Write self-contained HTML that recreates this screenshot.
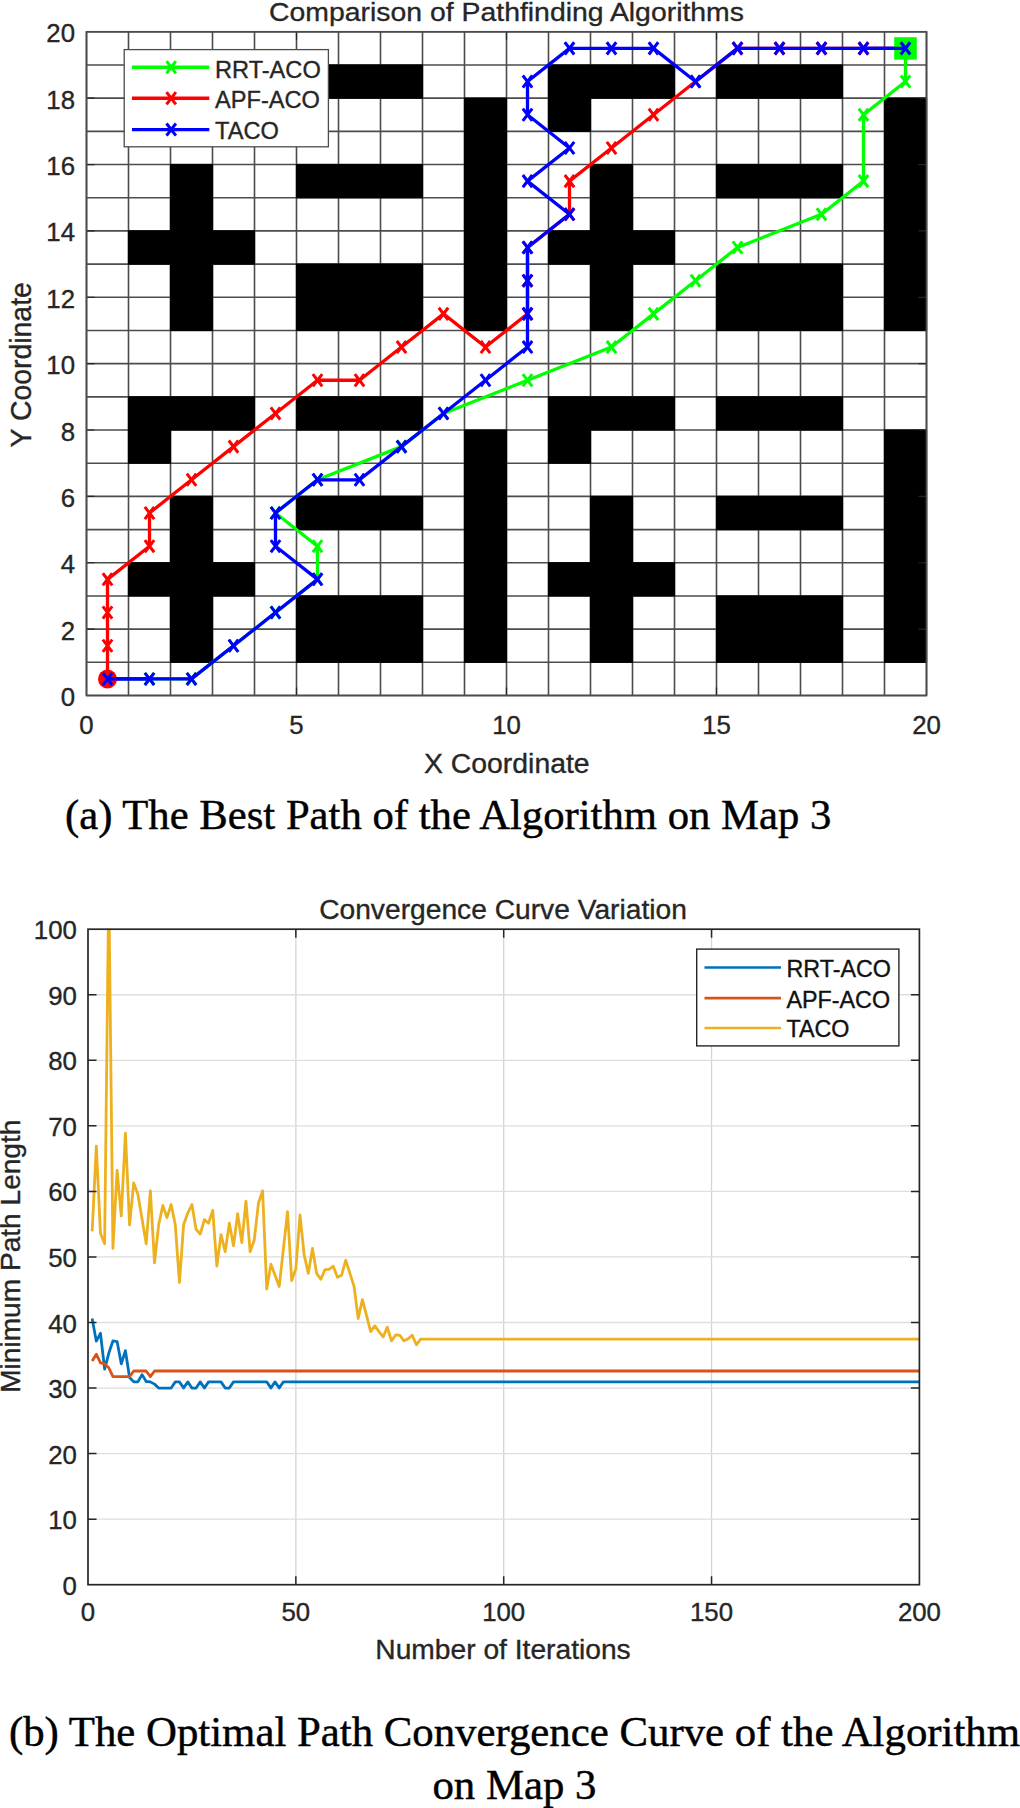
<!DOCTYPE html><html><head><meta charset="utf-8"><title>Figure</title><style>html,body{margin:0;padding:0;background:#fff}svg{display:block}text{font-family:"Liberation Sans",Arial,sans-serif;fill:#262626;stroke:#262626;stroke-width:.35px}.cap{font-family:"Liberation Serif","Times New Roman",serif;fill:#000;stroke:#000;stroke-width:.45px}</style></head><body>
<svg width="1020" height="1808" viewBox="0 0 1020 1808">
<rect width="1020" height="1808" fill="#fff"/>
<g id="c1">
<path d="M86.50 31.80V695.50M86.50 695.50H926.50M128.50 31.80V695.50M86.50 662.32H926.50M170.50 31.80V695.50M86.50 629.13H926.50M212.50 31.80V695.50M86.50 595.94H926.50M254.50 31.80V695.50M86.50 562.76H926.50M296.50 31.80V695.50M86.50 529.58H926.50M338.50 31.80V695.50M86.50 496.39H926.50M380.50 31.80V695.50M86.50 463.20H926.50M422.50 31.80V695.50M86.50 430.02H926.50M464.50 31.80V695.50M86.50 396.83H926.50M506.50 31.80V695.50M86.50 363.65H926.50M548.50 31.80V695.50M86.50 330.46H926.50M590.50 31.80V695.50M86.50 297.28H926.50M632.50 31.80V695.50M86.50 264.09H926.50M674.50 31.80V695.50M86.50 230.91H926.50M716.50 31.80V695.50M86.50 197.72H926.50M758.50 31.80V695.50M86.50 164.54H926.50M800.50 31.80V695.50M86.50 131.36H926.50M842.50 31.80V695.50M86.50 98.17H926.50M884.50 31.80V695.50M86.50 64.98H926.50M926.50 31.80V695.50M86.50 31.80H926.50" stroke="#4c4c4c" stroke-width="1.6" fill="none"/>
<g fill="#000">
<rect x="127.90" y="396.23" width="127.20" height="34.39"/>
<rect x="127.90" y="429.42" width="43.20" height="34.39"/>
<rect x="169.90" y="495.79" width="43.20" height="167.12"/>
<rect x="127.90" y="562.16" width="127.20" height="34.39"/>
<rect x="295.90" y="396.23" width="127.20" height="34.39"/>
<rect x="295.90" y="495.79" width="127.20" height="34.39"/>
<rect x="295.90" y="595.34" width="127.20" height="67.57"/>
<rect x="463.90" y="429.42" width="43.20" height="233.50"/>
<rect x="547.90" y="396.23" width="127.20" height="34.39"/>
<rect x="547.90" y="429.42" width="43.20" height="34.39"/>
<rect x="589.90" y="495.79" width="43.20" height="167.12"/>
<rect x="547.90" y="562.16" width="127.20" height="34.39"/>
<rect x="715.90" y="396.23" width="127.20" height="34.39"/>
<rect x="715.90" y="495.79" width="127.20" height="34.39"/>
<rect x="715.90" y="595.34" width="127.20" height="67.57"/>
<rect x="883.90" y="429.42" width="43.20" height="233.50"/>
<rect x="127.90" y="64.38" width="127.20" height="34.39"/>
<rect x="127.90" y="97.57" width="43.20" height="34.39"/>
<rect x="169.90" y="163.94" width="43.20" height="167.12"/>
<rect x="127.90" y="230.31" width="127.20" height="34.39"/>
<rect x="295.90" y="64.38" width="127.20" height="34.39"/>
<rect x="295.90" y="163.94" width="127.20" height="34.39"/>
<rect x="295.90" y="263.49" width="127.20" height="67.57"/>
<rect x="463.90" y="97.57" width="43.20" height="233.50"/>
<rect x="547.90" y="64.38" width="127.20" height="34.39"/>
<rect x="547.90" y="97.57" width="43.20" height="34.39"/>
<rect x="589.90" y="163.94" width="43.20" height="167.12"/>
<rect x="547.90" y="230.31" width="127.20" height="34.39"/>
<rect x="715.90" y="64.38" width="127.20" height="34.39"/>
<rect x="715.90" y="163.94" width="127.20" height="34.39"/>
<rect x="715.90" y="263.49" width="127.20" height="67.57"/>
<rect x="883.90" y="97.57" width="43.20" height="233.50"/>
</g>
<path d="M86.5 629.13h8M926.5 629.13h-8M86.5 562.76h8M926.5 562.76h-8M86.5 496.39h8M926.5 496.39h-8M86.5 430.02h8M926.5 430.02h-8M86.5 363.65h8M926.5 363.65h-8M86.5 297.28h8M926.5 297.28h-8M86.5 230.91h8M926.5 230.91h-8M86.5 164.54h8M926.5 164.54h-8M86.5 98.17h8M926.5 98.17h-8M296.50 31.8v8M296.50 695.5v-8M506.50 31.8v8M506.50 695.5v-8M716.50 31.8v8M716.50 695.5v-8" stroke="#262626" stroke-width="1.2" fill="none"/>
<rect x="86.5" y="31.8" width="840.0" height="663.7" fill="none" stroke="#4c4c4c" stroke-width="1.7"/>
<path d="M107.50 678.91L149.50 678.91L191.50 678.91L233.50 645.72L275.50 612.54L317.50 579.35L317.50 546.17L275.50 512.98L317.50 479.80L401.50 446.61L443.50 413.43L527.50 380.24L611.50 347.06L653.50 313.87L695.50 280.69L737.50 247.50L821.50 214.32L863.50 181.13L863.50 114.76L905.50 81.58L905.50 48.39" stroke="#00ff00" stroke-width="3.3" fill="none" stroke-linejoin="round"/>
<path d="M102.80 672.81L112.20 685.01M112.20 672.81L102.80 685.01M144.80 672.81L154.20 685.01M154.20 672.81L144.80 685.01M186.80 672.81L196.20 685.01M196.20 672.81L186.80 685.01M228.80 639.62L238.20 651.82M238.20 639.62L228.80 651.82M270.80 606.44L280.20 618.64M280.20 606.44L270.80 618.64M312.80 573.25L322.20 585.45M322.20 573.25L312.80 585.45M312.80 540.07L322.20 552.27M322.20 540.07L312.80 552.27M270.80 506.88L280.20 519.08M280.20 506.88L270.80 519.08M312.80 473.70L322.20 485.90M322.20 473.70L312.80 485.90M396.80 440.51L406.20 452.71M406.20 440.51L396.80 452.71M438.80 407.33L448.20 419.53M448.20 407.33L438.80 419.53M522.80 374.14L532.20 386.34M532.20 374.14L522.80 386.34M606.80 340.96L616.20 353.16M616.20 340.96L606.80 353.16M648.80 307.77L658.20 319.97M658.20 307.77L648.80 319.97M690.80 274.59L700.20 286.79M700.20 274.59L690.80 286.79M732.80 241.40L742.20 253.60M742.20 241.40L732.80 253.60M816.80 208.22L826.20 220.42M826.20 208.22L816.80 220.42M858.80 175.03L868.20 187.23M868.20 175.03L858.80 187.23M858.80 108.66L868.20 120.86M868.20 108.66L858.80 120.86M900.80 75.48L910.20 87.68M910.20 75.48L900.80 87.68M900.80 42.29L910.20 54.49M910.20 42.29L900.80 54.49" stroke="#00ff00" stroke-width="3" fill="none"/>
<path d="M107.50 678.91L107.50 645.72L107.50 612.54L107.50 579.35L149.50 546.17L149.50 512.98L191.50 479.80L233.50 446.61L275.50 413.43L317.50 380.24L359.50 380.24L401.50 347.06L443.50 313.87L485.50 347.06L527.50 313.87L527.50 280.69L527.50 247.50L569.50 214.32L569.50 181.13L611.50 147.95L653.50 114.76L695.50 81.58L737.50 48.39L779.50 48.39L821.50 48.39L863.50 48.39L905.50 48.39" stroke="#ff0000" stroke-width="3.3" fill="none" stroke-linejoin="round"/>
<path d="M102.80 672.81L112.20 685.01M112.20 672.81L102.80 685.01M102.80 639.62L112.20 651.82M112.20 639.62L102.80 651.82M102.80 606.44L112.20 618.64M112.20 606.44L102.80 618.64M102.80 573.25L112.20 585.45M112.20 573.25L102.80 585.45M144.80 540.07L154.20 552.27M154.20 540.07L144.80 552.27M144.80 506.88L154.20 519.08M154.20 506.88L144.80 519.08M186.80 473.70L196.20 485.90M196.20 473.70L186.80 485.90M228.80 440.51L238.20 452.71M238.20 440.51L228.80 452.71M270.80 407.33L280.20 419.53M280.20 407.33L270.80 419.53M312.80 374.14L322.20 386.34M322.20 374.14L312.80 386.34M354.80 374.14L364.20 386.34M364.20 374.14L354.80 386.34M396.80 340.96L406.20 353.16M406.20 340.96L396.80 353.16M438.80 307.77L448.20 319.97M448.20 307.77L438.80 319.97M480.80 340.96L490.20 353.16M490.20 340.96L480.80 353.16M522.80 307.77L532.20 319.97M532.20 307.77L522.80 319.97M522.80 274.59L532.20 286.79M532.20 274.59L522.80 286.79M522.80 241.40L532.20 253.60M532.20 241.40L522.80 253.60M564.80 208.22L574.20 220.42M574.20 208.22L564.80 220.42M564.80 175.03L574.20 187.23M574.20 175.03L564.80 187.23M606.80 141.85L616.20 154.05M616.20 141.85L606.80 154.05M648.80 108.66L658.20 120.86M658.20 108.66L648.80 120.86M690.80 75.48L700.20 87.68M700.20 75.48L690.80 87.68M732.80 42.29L742.20 54.49M742.20 42.29L732.80 54.49M774.80 42.29L784.20 54.49M784.20 42.29L774.80 54.49M816.80 42.29L826.20 54.49M826.20 42.29L816.80 54.49M858.80 42.29L868.20 54.49M868.20 42.29L858.80 54.49M900.80 42.29L910.20 54.49M910.20 42.29L900.80 54.49" stroke="#ff0000" stroke-width="3" fill="none"/>
<path d="M107.50 678.91L149.50 678.91L191.50 678.91L233.50 645.72L275.50 612.54L317.50 579.35L275.50 546.17L275.50 512.98L317.50 479.80L359.50 479.80L401.50 446.61L443.50 413.43L485.50 380.24L527.50 347.06L527.50 313.87L527.50 280.69L527.50 247.50L569.50 214.32L527.50 181.13L569.50 147.95L527.50 114.76L527.50 81.58L569.50 48.39L611.50 48.39L653.50 48.39L695.50 81.58L737.50 48.39L779.50 48.39L821.50 48.39L863.50 48.39L905.50 48.39" stroke="#0000ff" stroke-width="3.3" fill="none" stroke-linejoin="round"/>
<path d="M102.80 672.81L112.20 685.01M112.20 672.81L102.80 685.01M144.80 672.81L154.20 685.01M154.20 672.81L144.80 685.01M186.80 672.81L196.20 685.01M196.20 672.81L186.80 685.01M228.80 639.62L238.20 651.82M238.20 639.62L228.80 651.82M270.80 606.44L280.20 618.64M280.20 606.44L270.80 618.64M312.80 573.25L322.20 585.45M322.20 573.25L312.80 585.45M270.80 540.07L280.20 552.27M280.20 540.07L270.80 552.27M270.80 506.88L280.20 519.08M280.20 506.88L270.80 519.08M312.80 473.70L322.20 485.90M322.20 473.70L312.80 485.90M354.80 473.70L364.20 485.90M364.20 473.70L354.80 485.90M396.80 440.51L406.20 452.71M406.20 440.51L396.80 452.71M438.80 407.33L448.20 419.53M448.20 407.33L438.80 419.53M480.80 374.14L490.20 386.34M490.20 374.14L480.80 386.34M522.80 340.96L532.20 353.16M532.20 340.96L522.80 353.16M522.80 307.77L532.20 319.97M532.20 307.77L522.80 319.97M522.80 274.59L532.20 286.79M532.20 274.59L522.80 286.79M522.80 241.40L532.20 253.60M532.20 241.40L522.80 253.60M564.80 208.22L574.20 220.42M574.20 208.22L564.80 220.42M522.80 175.03L532.20 187.23M532.20 175.03L522.80 187.23M564.80 141.85L574.20 154.05M574.20 141.85L564.80 154.05M522.80 108.66L532.20 120.86M532.20 108.66L522.80 120.86M522.80 75.48L532.20 87.68M532.20 75.48L522.80 87.68M564.80 42.29L574.20 54.49M574.20 42.29L564.80 54.49M606.80 42.29L616.20 54.49M616.20 42.29L606.80 54.49M648.80 42.29L658.20 54.49M658.20 42.29L648.80 54.49M690.80 75.48L700.20 87.68M700.20 75.48L690.80 87.68M732.80 42.29L742.20 54.49M742.20 42.29L732.80 54.49M774.80 42.29L784.20 54.49M784.20 42.29L774.80 54.49M816.80 42.29L826.20 54.49M826.20 42.29L816.80 54.49M858.80 42.29L868.20 54.49M868.20 42.29L858.80 54.49M900.80 42.29L910.20 54.49M910.20 42.29L900.80 54.49" stroke="#0000ff" stroke-width="3" fill="none"/>
<circle cx="107.50" cy="678.91" r="9.5" fill="#ff0000"/>
<rect x="894.20" y="37.19" width="22.6" height="22.4" fill="#00ff00"/>
<path d="M102.80 672.81L112.20 685.01M112.20 672.81L102.80 685.01M900.80 42.29L910.20 54.49M910.20 42.29L900.80 54.49" stroke="#0000ff" stroke-width="3" fill="none"/>
<path d="M107.50 678.91H149.50M863.50 48.39H905.50" stroke="#0000ff" stroke-width="3.2" fill="none"/>
<rect x="124.2" y="49.6" width="204.2" height="97.2" fill="#fff" stroke="#4c4c4c" stroke-width="1.3"/>
<path d="M132 67.2H209.3" stroke="#00ff00" stroke-width="3.4"/>
<path d="M166.50 61.10L175.90 73.30M175.90 61.10L166.50 73.30" stroke="#00ff00" stroke-width="3" fill="none"/>
<text x="215" y="78.1" font-size="23.6">RRT-ACO</text>
<path d="M132 98.2H209.3" stroke="#ff0000" stroke-width="3.4"/>
<path d="M166.50 92.10L175.90 104.30M175.90 92.10L166.50 104.30" stroke="#ff0000" stroke-width="3" fill="none"/>
<text x="215" y="107.6" font-size="23.6">APF-ACO</text>
<path d="M132 129.6H209.3" stroke="#0000ff" stroke-width="3.4"/>
<path d="M166.50 123.50L175.90 135.70M175.90 123.50L166.50 135.70" stroke="#0000ff" stroke-width="3" fill="none"/>
<text x="215" y="138.5" font-size="23.6">TACO</text>
<text x="75" y="706.00" font-size="25.8" text-anchor="end">0</text>
<text x="75" y="639.63" font-size="25.8" text-anchor="end">2</text>
<text x="75" y="573.26" font-size="25.8" text-anchor="end">4</text>
<text x="75" y="506.89" font-size="25.8" text-anchor="end">6</text>
<text x="75" y="440.52" font-size="25.8" text-anchor="end">8</text>
<text x="75" y="374.15" font-size="25.8" text-anchor="end">10</text>
<text x="75" y="307.78" font-size="25.8" text-anchor="end">12</text>
<text x="75" y="241.41" font-size="25.8" text-anchor="end">14</text>
<text x="75" y="175.04" font-size="25.8" text-anchor="end">16</text>
<text x="75" y="108.67" font-size="25.8" text-anchor="end">18</text>
<text x="75" y="42.30" font-size="25.8" text-anchor="end">20</text>
<text x="86.50" y="733.6" font-size="25.8" text-anchor="middle">0</text>
<text x="296.50" y="733.6" font-size="25.8" text-anchor="middle">5</text>
<text x="506.50" y="733.6" font-size="25.8" text-anchor="middle">10</text>
<text x="716.50" y="733.6" font-size="25.8" text-anchor="middle">15</text>
<text x="926.50" y="733.6" font-size="25.8" text-anchor="middle">20</text>
<text transform="translate(506.5,21.2) scale(1,0.94)" font-size="28.4" text-anchor="middle">Comparison of Pathfinding Algorithms</text>
<text x="506.8" y="772.6" font-size="28.4" text-anchor="middle">X Coordinate</text>
<text transform="translate(31.3,364.8) rotate(-90) scale(1,1.04)" font-size="28.4" text-anchor="middle">Y Coordinate</text>
</g>
<text class="cap" x="65" y="828.5" font-size="42.7">(a) The Best Path of the Algorithm on Map 3</text>
<g id="c2">
<defs><clipPath id="cp"><rect x="88.00" y="928.70" width="831.40" height="656.50"/></clipPath></defs>
<path d="M295.85 929.2V1584.7M503.70 929.2V1584.7M711.55 929.2V1584.7" stroke="#d4d4d4" stroke-width="1.3" fill="none"/>
<path d="M88.0 1519.15H919.4M88.0 1453.60H919.4M88.0 1388.05H919.4M88.0 1322.50H919.4M88.0 1256.95H919.4M88.0 1191.40H919.4M88.0 1125.85H919.4M88.0 1060.30H919.4M88.0 994.75H919.4" stroke="#dedede" stroke-width="1.3" fill="none"/>
<path d="M92.16 1318.57L96.31 1341.18L100.47 1333.32L104.63 1369.04L108.78 1353.31L112.94 1340.85L117.10 1341.51L121.26 1363.80L125.41 1350.69L129.57 1377.56L133.73 1381.89L137.88 1381.89L142.04 1374.61L146.20 1381.50L150.35 1381.89L154.51 1384.12L158.67 1388.05L162.83 1388.05L166.98 1388.05L171.14 1388.05L175.30 1381.89L179.45 1381.89L183.61 1388.05L187.77 1381.89L191.93 1388.05L196.08 1388.05L200.24 1381.89L204.40 1388.05L208.55 1381.89L212.71 1381.89L216.87 1381.89L221.02 1381.89L225.18 1388.05L229.34 1388.05L233.50 1381.89L237.65 1381.89L241.81 1381.89L245.97 1381.89L250.12 1381.89L254.28 1381.89L258.44 1381.89L262.59 1381.89L266.75 1381.89L270.91 1388.05L275.06 1381.89L279.22 1388.05L283.38 1381.89L287.54 1381.89L291.69 1381.89L295.85 1381.89L300.01 1381.89L304.16 1381.89L308.32 1381.89L312.48 1381.89L316.63 1381.89L320.79 1381.89L324.95 1381.89L329.11 1381.89L333.26 1381.89L337.42 1381.89L341.58 1381.89L345.73 1381.89L349.89 1381.89L354.05 1381.89L358.20 1381.89L362.36 1381.89L366.52 1381.89L370.68 1381.89L374.83 1381.89L378.99 1381.89L383.15 1381.89L387.30 1381.89L391.46 1381.89L395.62 1381.89L399.77 1381.89L403.93 1381.89L408.09 1381.89L412.25 1381.89L416.40 1381.89L420.56 1381.89L424.72 1381.89L428.87 1381.89L433.03 1381.89L437.19 1381.89L441.35 1381.89L445.50 1381.89L449.66 1381.89L453.82 1381.89L457.97 1381.89L462.13 1381.89L466.29 1381.89L470.44 1381.89L474.60 1381.89L478.76 1381.89L482.92 1381.89L487.07 1381.89L491.23 1381.89L495.39 1381.89L499.54 1381.89L503.70 1381.89L507.86 1381.89L512.01 1381.89L516.17 1381.89L520.33 1381.89L524.49 1381.89L528.64 1381.89L532.80 1381.89L536.96 1381.89L541.11 1381.89L545.27 1381.89L549.43 1381.89L553.58 1381.89L557.74 1381.89L561.90 1381.89L566.06 1381.89L570.21 1381.89L574.37 1381.89L578.53 1381.89L582.68 1381.89L586.84 1381.89L591.00 1381.89L595.15 1381.89L599.31 1381.89L603.47 1381.89L607.62 1381.89L611.78 1381.89L615.94 1381.89L620.10 1381.89L624.25 1381.89L628.41 1381.89L632.57 1381.89L636.72 1381.89L640.88 1381.89L645.04 1381.89L649.20 1381.89L653.35 1381.89L657.51 1381.89L661.67 1381.89L665.82 1381.89L669.98 1381.89L674.14 1381.89L678.29 1381.89L682.45 1381.89L686.61 1381.89L690.76 1381.89L694.92 1381.89L699.08 1381.89L703.24 1381.89L707.39 1381.89L711.55 1381.89L715.71 1381.89L719.86 1381.89L724.02 1381.89L728.18 1381.89L732.34 1381.89L736.49 1381.89L740.65 1381.89L744.81 1381.89L748.96 1381.89L753.12 1381.89L757.28 1381.89L761.43 1381.89L765.59 1381.89L769.75 1381.89L773.90 1381.89L778.06 1381.89L782.22 1381.89L786.38 1381.89L790.53 1381.89L794.69 1381.89L798.85 1381.89L803.00 1381.89L807.16 1381.89L811.32 1381.89L815.48 1381.89L819.63 1381.89L823.79 1381.89L827.95 1381.89L832.10 1381.89L836.26 1381.89L840.42 1381.89L844.57 1381.89L848.73 1381.89L852.89 1381.89L857.04 1381.89L861.20 1381.89L865.36 1381.89L869.52 1381.89L873.67 1381.89L877.83 1381.89L881.99 1381.89L886.14 1381.89L890.30 1381.89L894.46 1381.89L898.62 1381.89L902.77 1381.89L906.93 1381.89L911.09 1381.89L915.24 1381.89L919.40 1381.89" stroke="#0072bd" stroke-width="2.8" fill="none" stroke-linejoin="round" clip-path="url(#cp)"/>
<path d="M92.16 1360.91L96.31 1354.16L100.47 1362.81L104.63 1363.80L108.78 1367.73L112.94 1376.58L117.10 1376.58L121.26 1376.58L125.41 1376.58L129.57 1376.58L133.73 1371.01L137.88 1371.01L142.04 1371.01L146.20 1371.01L150.35 1376.58L154.51 1371.01L158.67 1371.01L162.83 1371.01L166.98 1371.01L171.14 1371.01L175.30 1371.01L179.45 1371.01L183.61 1371.01L187.77 1371.01L191.93 1371.01L196.08 1371.01L200.24 1371.01L204.40 1371.01L208.55 1371.01L212.71 1371.01L216.87 1371.01L221.02 1371.01L225.18 1371.01L229.34 1371.01L233.50 1371.01L237.65 1371.01L241.81 1371.01L245.97 1371.01L250.12 1371.01L254.28 1371.01L258.44 1371.01L262.59 1371.01L266.75 1371.01L270.91 1371.01L275.06 1371.01L279.22 1371.01L283.38 1371.01L287.54 1371.01L291.69 1371.01L295.85 1371.01L300.01 1371.01L304.16 1371.01L308.32 1371.01L312.48 1371.01L316.63 1371.01L320.79 1371.01L324.95 1371.01L329.11 1371.01L333.26 1371.01L337.42 1371.01L341.58 1371.01L345.73 1371.01L349.89 1371.01L354.05 1371.01L358.20 1371.01L362.36 1371.01L366.52 1371.01L370.68 1371.01L374.83 1371.01L378.99 1371.01L383.15 1371.01L387.30 1371.01L391.46 1371.01L395.62 1371.01L399.77 1371.01L403.93 1371.01L408.09 1371.01L412.25 1371.01L416.40 1371.01L420.56 1371.01L424.72 1371.01L428.87 1371.01L433.03 1371.01L437.19 1371.01L441.35 1371.01L445.50 1371.01L449.66 1371.01L453.82 1371.01L457.97 1371.01L462.13 1371.01L466.29 1371.01L470.44 1371.01L474.60 1371.01L478.76 1371.01L482.92 1371.01L487.07 1371.01L491.23 1371.01L495.39 1371.01L499.54 1371.01L503.70 1371.01L507.86 1371.01L512.01 1371.01L516.17 1371.01L520.33 1371.01L524.49 1371.01L528.64 1371.01L532.80 1371.01L536.96 1371.01L541.11 1371.01L545.27 1371.01L549.43 1371.01L553.58 1371.01L557.74 1371.01L561.90 1371.01L566.06 1371.01L570.21 1371.01L574.37 1371.01L578.53 1371.01L582.68 1371.01L586.84 1371.01L591.00 1371.01L595.15 1371.01L599.31 1371.01L603.47 1371.01L607.62 1371.01L611.78 1371.01L615.94 1371.01L620.10 1371.01L624.25 1371.01L628.41 1371.01L632.57 1371.01L636.72 1371.01L640.88 1371.01L645.04 1371.01L649.20 1371.01L653.35 1371.01L657.51 1371.01L661.67 1371.01L665.82 1371.01L669.98 1371.01L674.14 1371.01L678.29 1371.01L682.45 1371.01L686.61 1371.01L690.76 1371.01L694.92 1371.01L699.08 1371.01L703.24 1371.01L707.39 1371.01L711.55 1371.01L715.71 1371.01L719.86 1371.01L724.02 1371.01L728.18 1371.01L732.34 1371.01L736.49 1371.01L740.65 1371.01L744.81 1371.01L748.96 1371.01L753.12 1371.01L757.28 1371.01L761.43 1371.01L765.59 1371.01L769.75 1371.01L773.90 1371.01L778.06 1371.01L782.22 1371.01L786.38 1371.01L790.53 1371.01L794.69 1371.01L798.85 1371.01L803.00 1371.01L807.16 1371.01L811.32 1371.01L815.48 1371.01L819.63 1371.01L823.79 1371.01L827.95 1371.01L832.10 1371.01L836.26 1371.01L840.42 1371.01L844.57 1371.01L848.73 1371.01L852.89 1371.01L857.04 1371.01L861.20 1371.01L865.36 1371.01L869.52 1371.01L873.67 1371.01L877.83 1371.01L881.99 1371.01L886.14 1371.01L890.30 1371.01L894.46 1371.01L898.62 1371.01L902.77 1371.01L906.93 1371.01L911.09 1371.01L915.24 1371.01L919.40 1371.01" stroke="#d95319" stroke-width="2.8" fill="none" stroke-linejoin="round" clip-path="url(#cp)"/>
<path d="M92.16 1231.39L96.31 1146.17L100.47 1233.35L104.63 1243.84L108.78 883.32L112.94 1248.43L117.10 1170.42L121.26 1215.98L125.41 1133.06L129.57 1224.83L133.73 1182.88L137.88 1194.35L142.04 1218.93L146.20 1243.84L150.35 1190.74L154.51 1262.85L158.67 1224.83L162.83 1205.49L166.98 1217.62L171.14 1204.51L175.30 1224.83L179.45 1282.51L183.61 1224.83L187.77 1213.03L191.93 1204.51L196.08 1229.42L200.24 1234.01L204.40 1219.59L208.55 1223.19L212.71 1210.41L216.87 1266.13L221.02 1234.66L225.18 1251.71L229.34 1223.19L233.50 1245.81L237.65 1213.69L241.81 1242.53L245.97 1201.23L250.12 1251.71L254.28 1239.91L258.44 1203.20L262.59 1190.74L266.75 1289.07L270.91 1264.16L275.06 1275.30L279.22 1286.45L283.38 1249.08L287.54 1211.72L291.69 1280.55L295.85 1268.75L300.01 1215.00L304.16 1254.98L308.32 1273.34L312.48 1248.43L316.63 1273.34L320.79 1279.24L324.95 1269.67L329.11 1269.40L333.26 1266.13L337.42 1277.27L341.58 1275.30L345.73 1260.23L349.89 1273.34L354.05 1286.45L358.20 1318.57L362.36 1299.56L366.52 1315.29L370.68 1331.68L374.83 1325.78L378.99 1331.68L383.15 1336.92L387.30 1327.09L391.46 1340.85L395.62 1334.95L399.77 1335.28L403.93 1340.85L408.09 1338.89L412.25 1335.28L416.40 1344.79L420.56 1339.22L424.72 1339.22L428.87 1339.22L433.03 1339.22L437.19 1339.22L441.35 1339.22L445.50 1339.22L449.66 1339.22L453.82 1339.22L457.97 1339.22L462.13 1339.22L466.29 1339.22L470.44 1339.22L474.60 1339.22L478.76 1339.22L482.92 1339.22L487.07 1339.22L491.23 1339.22L495.39 1339.22L499.54 1339.22L503.70 1339.22L507.86 1339.22L512.01 1339.22L516.17 1339.22L520.33 1339.22L524.49 1339.22L528.64 1339.22L532.80 1339.22L536.96 1339.22L541.11 1339.22L545.27 1339.22L549.43 1339.22L553.58 1339.22L557.74 1339.22L561.90 1339.22L566.06 1339.22L570.21 1339.22L574.37 1339.22L578.53 1339.22L582.68 1339.22L586.84 1339.22L591.00 1339.22L595.15 1339.22L599.31 1339.22L603.47 1339.22L607.62 1339.22L611.78 1339.22L615.94 1339.22L620.10 1339.22L624.25 1339.22L628.41 1339.22L632.57 1339.22L636.72 1339.22L640.88 1339.22L645.04 1339.22L649.20 1339.22L653.35 1339.22L657.51 1339.22L661.67 1339.22L665.82 1339.22L669.98 1339.22L674.14 1339.22L678.29 1339.22L682.45 1339.22L686.61 1339.22L690.76 1339.22L694.92 1339.22L699.08 1339.22L703.24 1339.22L707.39 1339.22L711.55 1339.22L715.71 1339.22L719.86 1339.22L724.02 1339.22L728.18 1339.22L732.34 1339.22L736.49 1339.22L740.65 1339.22L744.81 1339.22L748.96 1339.22L753.12 1339.22L757.28 1339.22L761.43 1339.22L765.59 1339.22L769.75 1339.22L773.90 1339.22L778.06 1339.22L782.22 1339.22L786.38 1339.22L790.53 1339.22L794.69 1339.22L798.85 1339.22L803.00 1339.22L807.16 1339.22L811.32 1339.22L815.48 1339.22L819.63 1339.22L823.79 1339.22L827.95 1339.22L832.10 1339.22L836.26 1339.22L840.42 1339.22L844.57 1339.22L848.73 1339.22L852.89 1339.22L857.04 1339.22L861.20 1339.22L865.36 1339.22L869.52 1339.22L873.67 1339.22L877.83 1339.22L881.99 1339.22L886.14 1339.22L890.30 1339.22L894.46 1339.22L898.62 1339.22L902.77 1339.22L906.93 1339.22L911.09 1339.22L915.24 1339.22L919.40 1339.22" stroke="#edb120" stroke-width="2.8" fill="none" stroke-linejoin="round" clip-path="url(#cp)"/>
<rect x="88.0" y="929.2" width="831.4" height="655.5" fill="none" stroke="#262626" stroke-width="1.7"/>
<path d="M295.85 1584.7v-8.5M295.85 929.2v8.5M503.70 1584.7v-8.5M503.70 929.2v8.5M711.55 1584.7v-8.5M711.55 929.2v8.5M88.0 1519.15h8.5M919.4 1519.15h-8.5M88.0 1453.60h8.5M919.4 1453.60h-8.5M88.0 1388.05h8.5M919.4 1388.05h-8.5M88.0 1322.50h8.5M919.4 1322.50h-8.5M88.0 1256.95h8.5M919.4 1256.95h-8.5M88.0 1191.40h8.5M919.4 1191.40h-8.5M88.0 1125.85h8.5M919.4 1125.85h-8.5M88.0 1060.30h8.5M919.4 1060.30h-8.5M88.0 994.75h8.5M919.4 994.75h-8.5" stroke="#262626" stroke-width="1.5" fill="none"/>
<rect x="696.7" y="949.1" width="202.2" height="96.8" fill="#fff" stroke="#262626" stroke-width="1.4"/>
<path d="M704.5 967.5H781" stroke="#0072bd" stroke-width="2.7"/>
<text x="786.5" y="976.9" font-size="23.3" style="fill:#111;stroke:#111">RRT-ACO</text>
<path d="M704.5 998.1H781" stroke="#d95319" stroke-width="2.7"/>
<text x="786.5" y="1007.5" font-size="23.3" style="fill:#111;stroke:#111">APF-ACO</text>
<path d="M704.5 1028H781" stroke="#edb120" stroke-width="2.7"/>
<text x="786.5" y="1037.4" font-size="23.3" style="fill:#111;stroke:#111">TACO</text>
<text x="76.9" y="1594.70" font-size="25.8" text-anchor="end">0</text>
<text x="76.9" y="1529.15" font-size="25.8" text-anchor="end">10</text>
<text x="76.9" y="1463.60" font-size="25.8" text-anchor="end">20</text>
<text x="76.9" y="1398.05" font-size="25.8" text-anchor="end">30</text>
<text x="76.9" y="1332.50" font-size="25.8" text-anchor="end">40</text>
<text x="76.9" y="1266.95" font-size="25.8" text-anchor="end">50</text>
<text x="76.9" y="1201.40" font-size="25.8" text-anchor="end">60</text>
<text x="76.9" y="1135.85" font-size="25.8" text-anchor="end">70</text>
<text x="76.9" y="1070.30" font-size="25.8" text-anchor="end">80</text>
<text x="76.9" y="1004.75" font-size="25.8" text-anchor="end">90</text>
<text x="76.9" y="939.20" font-size="25.8" text-anchor="end">100</text>
<text x="88.00" y="1621.2" font-size="25.8" text-anchor="middle">0</text>
<text x="295.85" y="1621.2" font-size="25.8" text-anchor="middle">50</text>
<text x="503.70" y="1621.2" font-size="25.8" text-anchor="middle">100</text>
<text x="711.55" y="1621.2" font-size="25.8" text-anchor="middle">150</text>
<text x="919.40" y="1621.2" font-size="25.8" text-anchor="middle">200</text>
<text x="503" y="918.8" font-size="28.2" text-anchor="middle">Convergence Curve Variation</text>
<text x="503" y="1659.4" font-size="28.2" text-anchor="middle">Number of Iterations</text>
<text transform="translate(19.5,1256.2) rotate(-90)" font-size="28.1" text-anchor="middle">Minimum Path Length</text>
</g>
<text class="cap" x="514.5" y="1746" font-size="42.8" text-anchor="middle">(b) The Optimal Path Convergence Curve of the Algorithm</text>
<text class="cap" x="514.5" y="1798.8" font-size="42.8" text-anchor="middle">on Map 3</text>
</svg></body></html>
